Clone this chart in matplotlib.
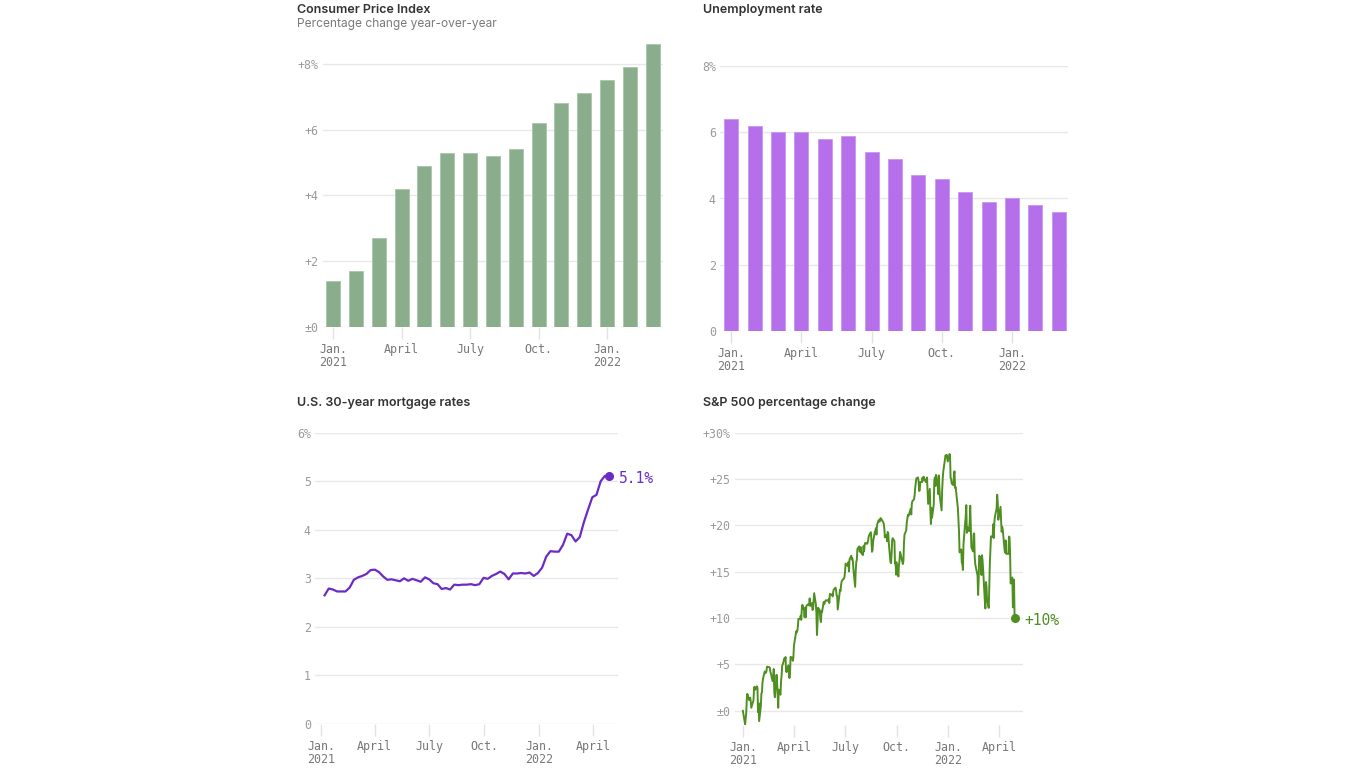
import matplotlib
matplotlib.use("Agg")
import matplotlib.pyplot as plt
import pandas as pd

W, H = 1366, 768

# ---- data -------------------------------------------------------------
cpi_yoy = [1.4, 1.7, 2.7, 4.2, 4.9, 5.3, 5.3, 5.2, 5.4, 6.2, 6.8, 7.1, 7.5, 7.9, 8.6]
unemployment = [6.4, 6.2, 6.0, 6.0, 5.8, 5.9, 5.4, 5.2, 4.7, 4.6, 4.2, 3.9, 4.0, 3.8, 3.6]
bar_tick_pos = [0, 3, 6, 9, 12]
bar_tick_labels = ["Jan.\n2021", "April", "July", "Oct.", "Jan.\n2022"]

# weekly 30-year fixed rate, Thursdays from 2021-01-07
mortgage_start = "2021-01-07"
mortgage_2021 = [2.65, 2.79, 2.77, 2.73, 2.73, 2.73, 2.81, 2.97, 3.02, 3.05, 3.09, 3.17,
                 3.18, 3.13, 3.04, 2.97, 2.98, 2.96, 2.94, 3.00, 2.95, 2.99, 2.96, 2.93,
                 3.02, 2.98, 2.90, 2.88, 2.78, 2.80, 2.77, 2.87, 2.86, 2.87, 2.87, 2.88,
                 2.86, 2.88, 3.01, 2.99, 3.05, 3.09, 3.14, 3.09, 2.98, 3.10, 3.10, 3.11,
                 3.10, 3.12, 3.05, 3.11]
mortgage_2022 = [3.22, 3.45, 3.56, 3.55, 3.55, 3.69, 3.92, 3.89, 3.76, 3.85, 4.16, 4.42,
                 4.67, 4.72, 5.00, 5.11, 5.10]

# S&P 500 daily closes; change measured from the 2020-12-31 close
sp500_base_date = "2020-12-31"
sp500_base = 3756.07
sp500_2021 = [
    3700.65, 3726.86, 3748.14, 3803.79, 3824.68, 3799.61, 3801.19, 3809.84, 3795.54, 3768.25,
    3798.91, 3851.85, 3853.07, 3841.47, 3855.36, 3849.62, 3750.77, 3787.38, 3714.24,
    3773.86, 3826.31, 3830.17, 3871.74, 3886.83, 3915.59, 3911.23, 3909.88, 3916.38, 3934.83,
    3932.59, 3931.33, 3913.97, 3906.71, 3876.50, 3881.37, 3925.43, 3829.34, 3811.15,
    3901.82, 3870.29, 3819.72, 3768.47, 3841.94, 3821.35, 3875.44, 3898.81, 3939.34, 3943.34,
    3968.94, 3962.71, 3974.12, 3915.46, 3913.10, 3940.59, 3910.52, 3889.14, 3909.52, 3974.54,
    3971.09, 3958.55, 3972.89,
    4019.87, 4077.91, 4073.94, 4079.95, 4097.17, 4128.80, 4127.99, 4141.59, 4124.66, 4170.42,
    4185.47, 4163.26, 4134.94, 4173.42, 4134.98, 4180.17, 4187.62, 4186.72, 4183.18, 4211.47,
    4181.17,
    4192.66, 4164.66, 4167.59, 4201.62, 4232.60, 4188.43, 4152.10, 4063.04, 4112.50, 4173.85,
    4163.29, 4127.83, 4115.68, 4159.12, 4155.86, 4197.05, 4188.13, 4195.99, 4200.88, 4204.11,
    4202.04, 4208.12, 4192.85, 4229.89, 4226.52, 4227.26, 4219.55, 4239.18, 4247.44, 4255.15,
    4246.59, 4223.70, 4221.86, 4166.45, 4224.79, 4246.44, 4241.84, 4266.49, 4280.70, 4290.61,
    4291.80, 4297.50,
    4319.94, 4352.34, 4343.54, 4358.13, 4320.82, 4369.55, 4384.63, 4369.21, 4374.30, 4360.03,
    4327.16, 4258.49, 4323.06, 4358.69, 4367.48, 4411.79, 4422.30, 4401.46, 4400.64, 4419.15,
    4395.26,
    4387.16, 4423.15, 4402.66, 4429.10, 4436.52, 4432.35, 4436.75, 4442.41, 4460.83, 4468.00,
    4479.71, 4448.08, 4400.27, 4405.80, 4441.67, 4479.53, 4486.23, 4496.19, 4470.00, 4509.37,
    4528.79, 4522.68,
    4524.09, 4536.95, 4535.43, 4520.03, 4514.07, 4493.28, 4458.58, 4468.73, 4443.05, 4480.70,
    4473.75, 4432.99, 4357.73, 4354.19, 4395.64, 4448.98, 4455.48, 4443.11, 4352.63, 4359.46,
    4307.54,
    4357.04, 4300.46, 4345.72, 4363.55, 4399.76, 4391.34, 4361.19, 4350.65, 4363.80, 4438.26,
    4471.37, 4486.46, 4519.63, 4536.19, 4549.78, 4544.90, 4566.48, 4574.79, 4551.68, 4596.42,
    4605.38,
    4613.67, 4630.65, 4660.57, 4680.06, 4697.53, 4701.70, 4685.25, 4646.71, 4649.27, 4682.85,
    4682.80, 4700.90, 4688.67, 4704.54, 4697.96, 4682.94, 4690.70, 4701.46, 4594.62, 4655.27,
    4567.00,
    4513.04, 4577.10, 4538.43, 4591.67, 4686.75, 4701.21, 4667.45, 4712.02, 4668.97, 4634.09,
    4709.85, 4668.67, 4620.64, 4568.02, 4649.23, 4696.56, 4725.79, 4791.19, 4786.35, 4793.06,
    4778.73, 4766.18,
]
sp500_2022 = [
    4796.56, 4793.54, 4700.58, 4696.05, 4677.03, 4670.29, 4713.07, 4726.35, 4659.03, 4662.85,
    4577.11, 4532.76, 4482.73, 4397.94, 4410.13, 4356.45, 4349.93, 4326.51, 4431.85, 4515.55,
    4546.54, 4589.38, 4477.44, 4500.53, 4483.87, 4521.54, 4587.18, 4504.08, 4418.64, 4401.67,
    4471.07, 4475.01, 4380.26, 4348.87, 4304.76, 4225.50, 4288.70, 4384.65, 4373.94,
    4306.26, 4386.54, 4363.49, 4328.87, 4201.09, 4170.70, 4277.88, 4259.52, 4204.31, 4173.11,
    4262.45, 4357.86, 4411.67, 4463.12, 4461.18, 4511.61, 4456.24, 4520.16, 4543.06, 4575.52,
    4631.60, 4602.45, 4530.41,
    4545.86, 4582.64, 4525.12, 4481.15, 4500.21, 4488.28, 4412.53, 4397.45, 4446.59, 4392.59,
    4391.69, 4462.21, 4459.45, 4393.66, 4271.78, 4296.12, 4175.20, 4183.96, 4287.50, 4131.93,
]
nyse_holidays = ["2021-01-18", "2021-02-15", "2021-04-02", "2021-05-31", "2021-07-05",
                 "2021-09-06", "2021-11-25", "2021-12-24", "2022-01-17", "2022-02-21",
                 "2022-04-15"]

date_ticks = ["2021-01-01", "2021-04-01", "2021-07-01", "2021-10-01", "2022-01-01", "2022-04-01"]
date_tick_labels = ["Jan.\n2021", "April", "July", "Oct.", "Jan.\n2022", "April"]

# ---- styling ------------------------------------------------------------
CPI_GREEN = "#8aae8b"
UNEMP_PURPLE = "#b56fea"
MORT_PURPLE = "#6a2cc4"
SP_GREEN = "#4f8f22"
GRID = "#e8e8e8"
MONO = "DejaVu Sans Mono"
SANS = "Inter"

fig = plt.figure(figsize=(W / 100, H / 100), dpi=100)
fig.patch.set_facecolor("white")


def px_axes(left, top, right, bottom):
    return fig.add_axes([left / W, 1 - bottom / H, (right - left) / W, (bottom - top) / H])


def style(ax, yticks, ylabels):
    for s in ax.spines.values():
        s.set_visible(False)
    ax.set_yticks(yticks)
    ax.set_yticklabels(ylabels)
    ax.grid(axis="y", color=GRID, lw=1)
    ax.set_axisbelow(True)
    ax.tick_params(axis="y", length=0, pad=3, labelsize=8.4, labelcolor="#9a9a9a")
    ax.tick_params(axis="x", length=8.5, width=1, color="#e2e2e2", pad=3,
                   labelsize=8.4, labelcolor="#777777")
    for lab in ax.get_xticklabels() + ax.get_yticklabels():
        lab.set_fontfamily(MONO)
    for lab in ax.get_xticklabels():
        lab.set_linespacing(1.0)


def title(x, y, text, sub=None):
    fig.text(x / W, 1 - y / H, text, family=SANS, weight="semibold", size=9,
             color="#333333", va="baseline")
    if sub:
        fig.text(x / W, 1 - (y + 14) / H, sub, family=SANS, size=8.6,
                 color="#7a7a7a", va="baseline")


# Consumer Price Index
ax1 = px_axes(323, 40, 663, 327)
ax1.bar(range(len(cpi_yoy)), cpi_yoy, width=0.61, color=CPI_GREEN,
        edgecolor="#a9c6aa", lw=0.6)
ax1.set_xlim(-0.44, 14.45)
ax1.set_ylim(0, 8.72)
ax1.set_xticks(bar_tick_pos)
ax1.set_xticklabels(bar_tick_labels)
style(ax1, [0, 2, 4, 6, 8], ["±0", "+2", "+4", "+6", "+8%"])
title(297, 13, "Consumer Price Index", "Percentage change year-over-year")

# Unemployment rate
ax2 = px_axes(720, 66, 1068, 331)
ax2.bar(range(len(unemployment)), unemployment, width=0.6, color=UNEMP_PURPLE,
        edgecolor="#c896f0", lw=0.6)
ax2.set_xlim(-0.48, 14.39)
ax2.set_ylim(0, 8)
ax2.set_xticks(bar_tick_pos)
ax2.set_xticklabels(bar_tick_labels)
style(ax2, [0, 2, 4, 6, 8], ["0", "2", "4", "6", "8%"])
title(703, 13, "Unemployment rate")

# Mortgage rates
mort_vals = mortgage_2021 + mortgage_2022
mort_dates = pd.date_range(mortgage_start, periods=len(mort_vals), freq="7D")
ax3 = px_axes(315, 432.7, 618, 724)
ax3.plot(mort_dates, mort_vals, color=MORT_PURPLE, lw=1.6, solid_joinstyle="round")
ax3.plot(mort_dates[-1:], mort_vals[-1:], "o", color=MORT_PURPLE, ms=5.5, clip_on=False)
ax3.annotate(f"{mort_vals[-1]:.1f}%", (mort_dates[-1], mort_vals[-1]), xytext=(7, -1.5),
             textcoords="offset points", va="center", ha="left", family=MONO,
             size=10.5, color=MORT_PURPLE, annotation_clip=False)
ax3.set_xlim(pd.Timestamp("2020-12-22"), pd.Timestamp("2022-05-13"))
ax3.set_ylim(0, 6)
ax3.set_xticks(pd.to_datetime(date_ticks))
ax3.set_xticklabels(date_tick_labels)
style(ax3, [0, 1, 2, 3, 4, 5, 6], ["0", "1", "2", "3", "4", "5", "6%"])
title(297, 406, "U.S. 30-year mortgage rates")

# S&P 500
sp_dates = pd.bdate_range("2021-01-04", "2022-04-29", freq="C", holidays=nyse_holidays)
sp_dates = pd.DatetimeIndex([pd.Timestamp(sp500_base_date)]).append(sp_dates)
sp_close = [sp500_base] + sp500_2021 + sp500_2022
sp_pct = [(c / sp500_base - 1) * 100 for c in sp_close]
ax4 = px_axes(735, 432.7, 1023, 725)
ax4.plot(sp_dates, sp_pct, color=SP_GREEN, lw=1.4, solid_joinstyle="round")
ax4.plot(sp_dates[-1:], sp_pct[-1:], "o", color=SP_GREEN, ms=5.5, clip_on=False)
ax4.annotate(f"+{sp_pct[-1]:.0f}%", (sp_dates[-1], sp_pct[-1]), xytext=(7, -1.5),
             textcoords="offset points", va="center", ha="left", family=MONO,
             size=10.5, color=SP_GREEN, annotation_clip=False)
ax4.set_xlim(pd.Timestamp("2020-12-17"), pd.Timestamp("2022-05-14"))
ax4.set_ylim(-1.53, 30)
ax4.set_xticks(pd.to_datetime(date_ticks))
ax4.set_xticklabels(date_tick_labels)
style(ax4, [0, 5, 10, 15, 20, 25, 30], ["±0", "+5", "+10", "+15", "+20", "+25", "+30%"])
title(703, 406, "S&P 500 percentage change")

fig.savefig("out.png", dpi=100, facecolor="white")
